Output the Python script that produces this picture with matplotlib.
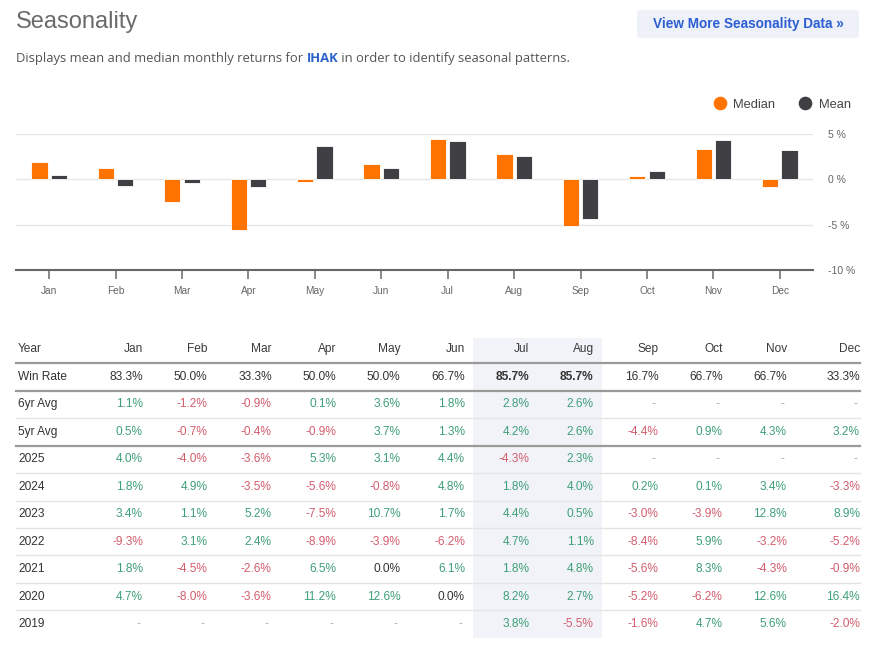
import matplotlib.pyplot as plt
from matplotlib.patches import FancyBboxPatch, Rectangle
from matplotlib.lines import Line2D
import numpy as np

plt.rcParams['font.family'] = ['Liberation Sans', 'DejaVu Sans']

# chart data
months = ['Jan', 'Feb', 'Mar', 'Apr', 'May', 'Jun', 'Jul', 'Aug', 'Sep', 'Oct', 'Nov', 'Dec']
median = [1.9, 1.2, -2.5, -5.6, -0.3, 1.7, 4.5, 2.8, -5.2, 0.4, 3.4, -0.9]
mean = [0.5, -0.7, -0.4, -0.9, 3.7, 1.3, 4.2, 2.6, -4.4, 0.9, 4.3, 3.2]
y_ticks = [-10, -5, 0, 5]

# table data
win_rate = [83.3, 50.0, 33.3, 50.0, 50.0, 66.7, 85.7, 85.7, 16.7, 66.7, 66.7, 33.3]
avg_6yr = [1.1, -1.2, -0.9, 0.1, 3.6, 1.8, 2.8, 2.6, None, None, None, None]
avg_5yr = [0.5, -0.7, -0.4, -0.9, 3.7, 1.3, 4.2, 2.6, -4.4, 0.9, 4.3, 3.2]
r2025 = [4.0, -4.0, -3.6, 5.3, 3.1, 4.4, -4.3, 2.3, None, None, None, None]
r2024 = [1.8, 4.9, -3.5, -5.6, -0.8, 4.8, 1.8, 4.0, 0.2, 0.1, 3.4, -3.3]
r2023 = [3.4, 1.1, 5.2, -7.5, 10.7, 1.7, 4.4, 0.5, -3.0, -3.9, 12.8, 8.9]
r2022 = [-9.3, 3.1, 2.4, -8.9, -3.9, -6.2, 4.7, 1.1, -8.4, 5.9, -3.2, -5.2]
r2021 = [1.8, -4.5, -2.6, 6.5, 0.0, 6.1, 1.8, 4.8, -5.6, 8.3, -4.3, -0.9]
r2020 = [4.7, -8.0, -3.6, 11.2, 12.6, 0.0, 8.2, 2.7, -5.2, -6.2, 12.6, 16.4]
r2019 = [None, None, None, None, None, None, 3.8, -5.5, -1.6, 4.7, 5.6, -2.0]
highlight = ['Jul', 'Aug']

row_labels = ['6yr Avg', '5yr Avg', '2025', '2024', '2023', '2022', '2021', '2020', '2019']
row_values = [avg_6yr, avg_5yr, r2025, r2024, r2023, r2022, r2021, r2020, r2019]

ORANGE = '#ff7300'
DARK = '#3f3f44'
GREEN = '#3f9f78'
RED = '#d25d6c'
W, H = 876, 649

fig = plt.figure(figsize=(W / 100, H / 100), dpi=100)
fig.patch.set_facecolor('white')

# overlay axes in pixel units for header + table
bg = fig.add_axes([0, 0, 1, 1])
bg.set_xlim(0, W)
bg.set_ylim(H, 0)
bg.axis('off')

bg.text(16, 22, 'Seasonality', fontsize=17, color='#6a6a6a', va='center')
sub_font = ['Open Sans', 'DejaVu Sans']
t1 = bg.text(16, 65, 'Displays mean and median monthly returns for ', fontsize=9.4,
             color='#555555', va='bottom', family=sub_font)
t2 = bg.annotate('IHAK', xy=(1, 0), xycoords=t1, fontsize=9.4, color='#2a62c9',
                 fontweight='bold', va='bottom', family=sub_font)
bg.annotate(' in order to identify seasonal patterns.', xy=(1, 0), xycoords=t2,
            fontsize=9.4, color='#555555', va='bottom', family=sub_font)

btn = FancyBboxPatch((637, 10), 222, 28, boxstyle='round,pad=0,rounding_size=4',
                     facecolor='#eef1f8', edgecolor='none')
bg.add_patch(btn)
bg.text(748, 24, 'View More Seasonality Data \u00bb', fontsize=9.8, fontweight='bold',
        color='#2d5fd3', ha='center', va='center')

# bar chart
ax = fig.add_axes([16 / W, 1 - 270 / H, 797 / W, 136 / H])
x = np.arange(len(months)) + 0.5
ax.bar(x - 0.146, median, 0.245, color=ORANGE, edgecolor='white', linewidth=0.6, zorder=3)
ax.bar(x + 0.146, mean, 0.245, color=DARK, edgecolor='white', linewidth=0.6, zorder=3)
ax.set_xlim(0, 12)
ax.set_ylim(-10, 5)
ax.set_xticks(x)
ax.set_xticklabels(months, fontsize=7.3, color='#666666')
ax.set_yticks(y_ticks)
ax.set_yticklabels([f'{v} %' for v in y_ticks], fontsize=7.5, color='#666666', ha='left')
ax.yaxis.tick_right()
ax.tick_params(axis='y', length=0, pad=11)
ax.tick_params(axis='x', length=6.5, width=1.4, color='#888888', pad=5)
ax.grid(axis='y', color='#e6e6e6', linewidth=1, zorder=0)
for s in ['top', 'left', 'right']:
    ax.spines[s].set_visible(False)
ax.spines['bottom'].set_color('#666666')
ax.spines['bottom'].set_linewidth(1.5)
ax.set_facecolor('none')

handles = [Line2D([], [], marker='o', linestyle='none', color=ORANGE, markersize=8.8),
           Line2D([], [], marker='o', linestyle='none', color=DARK, markersize=8.8)]
fig.legend(handles, ['Median', 'Mean'], loc='center right', bbox_to_anchor=(851 / W, 1 - 104.7 / H),
           ncol=2, frameon=False, fontsize=9.3, handlelength=0.9, handletextpad=0.6,
           columnspacing=1.9, borderpad=0, borderaxespad=0, labelcolor='#444444')

# table
col_right = [143 + 64.4 * i for i in range(11)] + [860]
header_y = 349
row_y0 = 377
row_step = 27.45
fs = 8.6

hi = [months.index(m) for m in highlight]
bg.add_patch(Rectangle((col_right[hi[0] - 1] + 8, 338), col_right[hi[-1]] - col_right[hi[0] - 1],
                       300, facecolor='#f1f3f8', edgecolor='none', zorder=0))

bg.text(18, header_y, 'Year', fontsize=fs, color='#3a3a3a', va='center')
for m, cx in zip(months, col_right):
    bg.text(cx, header_y, m, fontsize=fs, color='#3a3a3a', va='center', ha='right')
bg.plot([16, 860], [header_y + 14, header_y + 14], color='#9a9a9a', lw=1.6)

# win rate row
bg.text(18, row_y0, 'Win Rate', fontsize=fs, color='#333333', va='center')
for i, (v, cx) in enumerate(zip(win_rate, col_right)):
    bg.text(cx, row_y0, f'{v:.1f}%', fontsize=fs, color='#333333', va='center', ha='right',
            fontweight='bold' if i in hi else 'normal')
bg.plot([16, 860], [row_y0 + 13.7, row_y0 + 13.7], color='#9a9a9a', lw=1.6)

for k, (label, vals) in enumerate(zip(row_labels, row_values)):
    y = row_y0 + (k + 1) * row_step
    bg.text(18, y, label, fontsize=fs, color='#333333', va='center')
    for v, cx in zip(vals, col_right):
        if v is None:
            bg.text(cx - 3, y, '-', fontsize=fs, color='#aaaaaa', va='center', ha='right')
            continue
        c = GREEN if v > 0 else RED if v < 0 else '#333333'
        bg.text(cx, y, f'{v:.1f}%', fontsize=fs, color=c, va='center', ha='right')
    if k == len(row_labels) - 1:
        continue
    thick = label == '5yr Avg'
    bg.plot([16, 860], [y + 13.7, y + 13.7], color='#9a9a9a' if thick else '#e4e4e4',
            lw=1.6 if thick else 1)

fig.savefig('out.png', dpi=100, facecolor='white')
